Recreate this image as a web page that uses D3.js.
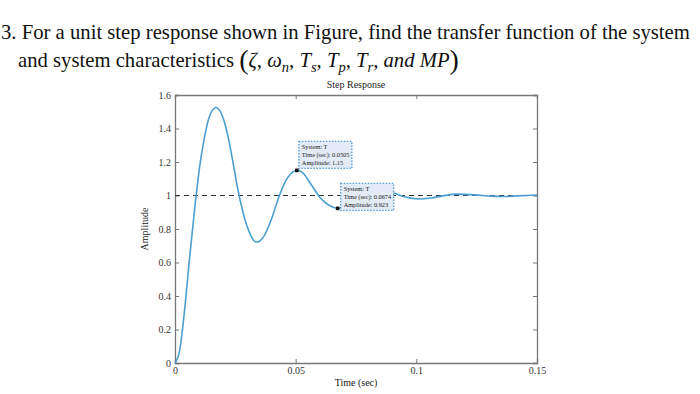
<!DOCTYPE html>
<html>
<head>
<meta charset="utf-8">
<script src="https://cdn.jsdelivr.net/npm/d3@7"></script>
<style>
  html, body { margin: 0; padding: 0; background: #fff; }
  svg text { font-family: "Liberation Serif", "DejaVu Serif", serif; }
</style>
</head>
<body>
<div id="chart"></div>
<script>
// step response samples
const times = [0, 0.002, 0.004, 0.006, 0.008, 0.010, 0.012, 0.014, 0.017, 0.020, 0.022, 0.024,
  0.026, 0.028, 0.030, 0.032, 0.0335, 0.035, 0.037, 0.040, 0.043, 0.046, 0.048, 0.0505,
  0.053, 0.056, 0.060, 0.064, 0.0674, 0.071, 0.075, 0.080, 0.085, 0.090, 0.095, 0.101,
  0.106, 0.111, 0.117, 0.124, 0.131, 0.136, 0.142, 0.15];
const amplitudes = [0, 0.08, 0.32, 0.62, 0.90, 1.15, 1.33, 1.46, 1.525, 1.46, 1.35, 1.20,
  1.04, 0.91, 0.81, 0.745, 0.722, 0.727, 0.76, 0.86, 0.99, 1.09, 1.13, 1.15,
  1.135, 1.075, 0.99, 0.94, 0.923, 0.938, 0.975, 1.02, 1.035, 1.018, 0.992, 0.979,
  0.985, 0.998, 1.008, 1.004, 0.996, 0.994, 0.998, 1.002];

const xTicks = [0, 0.05, 0.1, 0.15];
const yTicks = [0, 0.2, 0.4, 0.6, 0.8, 1, 1.2, 1.4, 1.6];

// data tips shown on the plot
const tipTimes = [0.0505, 0.0674];
const tipAmps = [1.15, 0.923];
const tipLabels = [
  ['System: T', 'Time (sec): 0.0505', 'Amplitude: 1.15'],
  ['System: T', 'Time (sec): 0.0674', 'Amplitude: 0.923']
];

const width = 700, height = 394;
const plot = { left: 175, right: 537, top: 95, bottom: 363 };

const svg = d3.select('#chart').append('svg')
  .attr('width', width)
  .attr('height', height);

// question text
const q = svg.append('g').attr('fill', '#111');
const line1 = q.append('text')
  .attr('x', 1).attr('y', 39)
  .attr('font-size', 20)
  .text('3. For a unit step response shown in Figure, find the transfer function of the system');
const len = line1.node().getComputedTextLength();
const fs = 20 * 689 / len;
line1.attr('font-size', fs);

const line2 = q.append('text').attr('x', 18).attr('y', 67).attr('font-size', fs);
line2.append('tspan').text('and system characteristics ');
line2.append('tspan').attr('font-size', fs * 1.35).attr('dy', 2).text('(');
const sub = (s) => line2.append('tspan').attr('font-style', 'italic')
  .attr('font-size', fs * 0.7).attr('dy', 5).text(s);
const up = () => line2.append('tspan').attr('dy', -5);
line2.append('tspan').attr('dy', -2).attr('font-style', 'italic').text('ζ, ω');
sub('n'); up().attr('font-style', 'italic').text(', T');
sub('s'); up().attr('font-style', 'italic').text(', T');
sub('p'); up().attr('font-style', 'italic').text(', T');
sub('r'); up().attr('font-style', 'italic').text(', and MP');
line2.append('tspan').attr('font-size', fs * 1.35).attr('dy', 2).text(')');

// scales
const x = d3.scaleLinear().domain([0, 0.15]).range([plot.left, plot.right]);
const y = d3.scaleLinear().domain([0, 1.6]).range([plot.bottom, plot.top]);

const axisColor = '#777';
const tickFmt = d => d === 0 ? '0' : String(d);

const gx = svg.append('g')
  .attr('transform', `translate(0,${plot.bottom})`)
  .call(d3.axisBottom(x).tickValues(xTicks).tickSize(-4).tickPadding(4).tickFormat(tickFmt));
const gy = svg.append('g')
  .attr('transform', `translate(${plot.left},0)`)
  .call(d3.axisLeft(y).tickValues(yTicks).tickSize(-4).tickPadding(4).tickFormat(tickFmt));
const gt = svg.append('g')
  .attr('transform', `translate(0,${plot.top})`)
  .call(d3.axisTop(x).tickValues(xTicks).tickSize(-4).tickFormat(''));
const gr = svg.append('g')
  .attr('transform', `translate(${plot.right},0)`)
  .call(d3.axisRight(y).tickValues(yTicks).tickSize(-4).tickFormat(''));

[gx, gy, gt, gr].forEach(g => {
  g.select('.domain').attr('stroke', axisColor).attr('stroke-width', 1.3);
  g.selectAll('.tick line').attr('stroke', axisColor);
  g.selectAll('.tick text').attr('fill', '#333').attr('font-size', 10)
    .attr('font-family', '"Liberation Serif", serif');
});

// reference line at 1
svg.append('line')
  .attr('x1', x(0)).attr('x2', x(0.15))
  .attr('y1', y(1)).attr('y2', y(1))
  .attr('stroke', '#333').attr('stroke-width', 1.2)
  .attr('stroke-dasharray', '5,4');

// step response
const pts = times.map((t, i) => [t, amplitudes[i]]);
svg.append('path')
  .datum(pts)
  .attr('fill', 'none')
  .attr('stroke', '#4a9fd0')
  .attr('stroke-width', 1.6)
  .attr('d', d3.line().x(d => x(d[0])).y(d => y(d[1])).curve(d3.curveMonotoneX));

// data tips
const tipOffsets = [[2, -2], [3, 2]];
tipTimes.forEach((t, i) => {
  const px = x(t), py = y(tipAmps[i]);
  const bw = 53, bh = 27;
  const bx = px + tipOffsets[i][0], by = py + tipOffsets[i][1] - bh;
  const tip = svg.append('g');
  tip.append('rect')
    .attr('x', bx).attr('y', by).attr('width', bw).attr('height', bh)
    .attr('fill', '#e2ebf6')
    .attr('stroke', '#5a9fd8').attr('stroke-width', 1.4)
    .attr('stroke-dasharray', '1.5,1.5');
  tip.selectAll('text').data(tipLabels[i]).enter().append('text')
    .attr('x', bx + 3).attr('y', (d, j) => by + 8 + j * 8)
    .attr('font-size', 6.3).attr('fill', '#222')
    .text(d => d);
  svg.append('rect')
    .attr('x', px - 1.8).attr('y', py - 1.8).attr('width', 3.6).attr('height', 3.6)
    .attr('fill', '#111');
});

// titles
svg.append('text')
  .attr('x', (plot.left + plot.right) / 2).attr('y', 88)
  .attr('text-anchor', 'middle').attr('font-size', 10).attr('fill', '#222')
  .text('Step Response');
svg.append('text')
  .attr('x', (plot.left + plot.right) / 2).attr('y', 386)
  .attr('text-anchor', 'middle').attr('font-size', 10).attr('fill', '#222')
  .text('Time (sec)');
svg.append('text')
  .attr('transform', `translate(148,${(plot.top + plot.bottom) / 2}) rotate(-90)`)
  .attr('text-anchor', 'middle').attr('font-size', 10).attr('fill', '#222')
  .text('Amplitude');
</script>
</body>
</html>
